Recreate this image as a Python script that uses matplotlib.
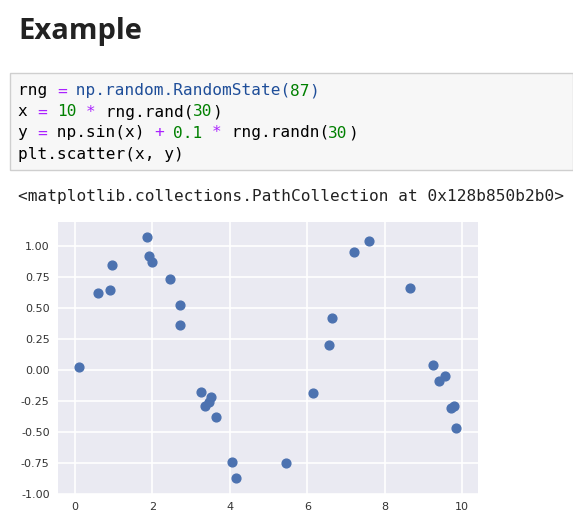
import numpy as np
import matplotlib
matplotlib.use("Agg")
import matplotlib.pyplot as plt
from matplotlib.patches import Rectangle

x = [0.1, 0.6, 0.9, 0.95, 1.85, 1.9, 2.0, 2.45, 2.7, 2.7, 3.25, 3.35, 3.45, 3.5, 3.65,
     4.05, 4.15, 5.45, 6.15, 6.55, 6.65, 7.2, 7.6, 8.65, 9.25, 9.4, 9.55, 9.7, 9.8, 9.85]
y = [0.02, 0.62, 0.64, 0.84, 1.07, 0.92, 0.87, 0.73, 0.52, 0.36, -0.18, -0.29, -0.26, -0.22, -0.38,
     -0.74, -0.87, -0.75, -0.19, 0.20, 0.42, 0.95, 1.04, 0.66, 0.04, -0.09, -0.05, -0.31, -0.29, -0.47]
xticks = [0, 2, 4, 6, 8, 10]
yticks = [-1.0, -0.75, -0.5, -0.25, 0.0, 0.25, 0.5, 0.75, 1.0]

W, H = 573, 528
fig = plt.figure(figsize=(W/100, H/100), dpi=100)

def fx(px): return px / W
def fy(py): return 1 - py / H

fig.text(fx(18), fy(32), "Example", fontsize=21, fontweight="bold", va="center",
         family="Open Sans", color="#222222")

fig.patches.append(Rectangle((fx(10), fy(170)), fx(563), (170-73)/H, transform=fig.transFigure,
                             facecolor="#f7f7f7", edgecolor="#cfcfcf", lw=1))

P, G, B, K = "#aa22ff", "#008000", "#1f4e99", "#000000"
lines = [
    [("rng ", K), ("=", P), (" np.random.RandomState(", B), ("87", G), (")", B)],
    [("x ", K), ("=", P), (" ", K), ("10", G), (" ", K), ("*", P), (" rng.rand(", K), ("30", G), (")", K)],
    [("y ", K), ("=", P), (" np.sin(x) ", K), ("+", P), (" ", K), ("0.1", G), (" ", K), ("*", P),
     (" rng.randn(", K), ("30", G), (")", K)],
    [("plt.scatter(x, y)", K)],
]
cw = 9.7
for i, toks in enumerate(lines):
    ypx = 91 + i * 21
    pos = 0
    for t, c in toks:
        fig.text(fx(18 + pos * cw), fy(ypx), t, family="DejaVu Sans Mono", fontsize=11.6,
                 color=c, va="center")
        pos += len(t)

fig.text(fx(18), fy(196), "<matplotlib.collections.PathCollection at 0x128b850b2b0>",
         family="DejaVu Sans Mono", fontsize=11.6, color="#222222", va="center")

ax = fig.add_axes([fx(58), fy(494), fx(420), (494-222)/H])
ax.set_facecolor("#EAEAF2")
ax.scatter(x, y, s=40, color="#4C72B0", zorder=3)
ax.set_xlim(-0.44, 10.41)
ax.set_ylim(-1.0, 1.19)
ax.set_xticks(xticks)
ax.set_yticks(yticks)
ax.set_yticklabels([f"{v:.2f}" for v in yticks])
ax.grid(True, color="white", lw=1.2, zorder=0)
for s in ax.spines.values():
    s.set_visible(False)
ax.tick_params(length=0, labelsize=8, colors="#333333", pad=6)

fig.savefig("out.png", dpi=100)
